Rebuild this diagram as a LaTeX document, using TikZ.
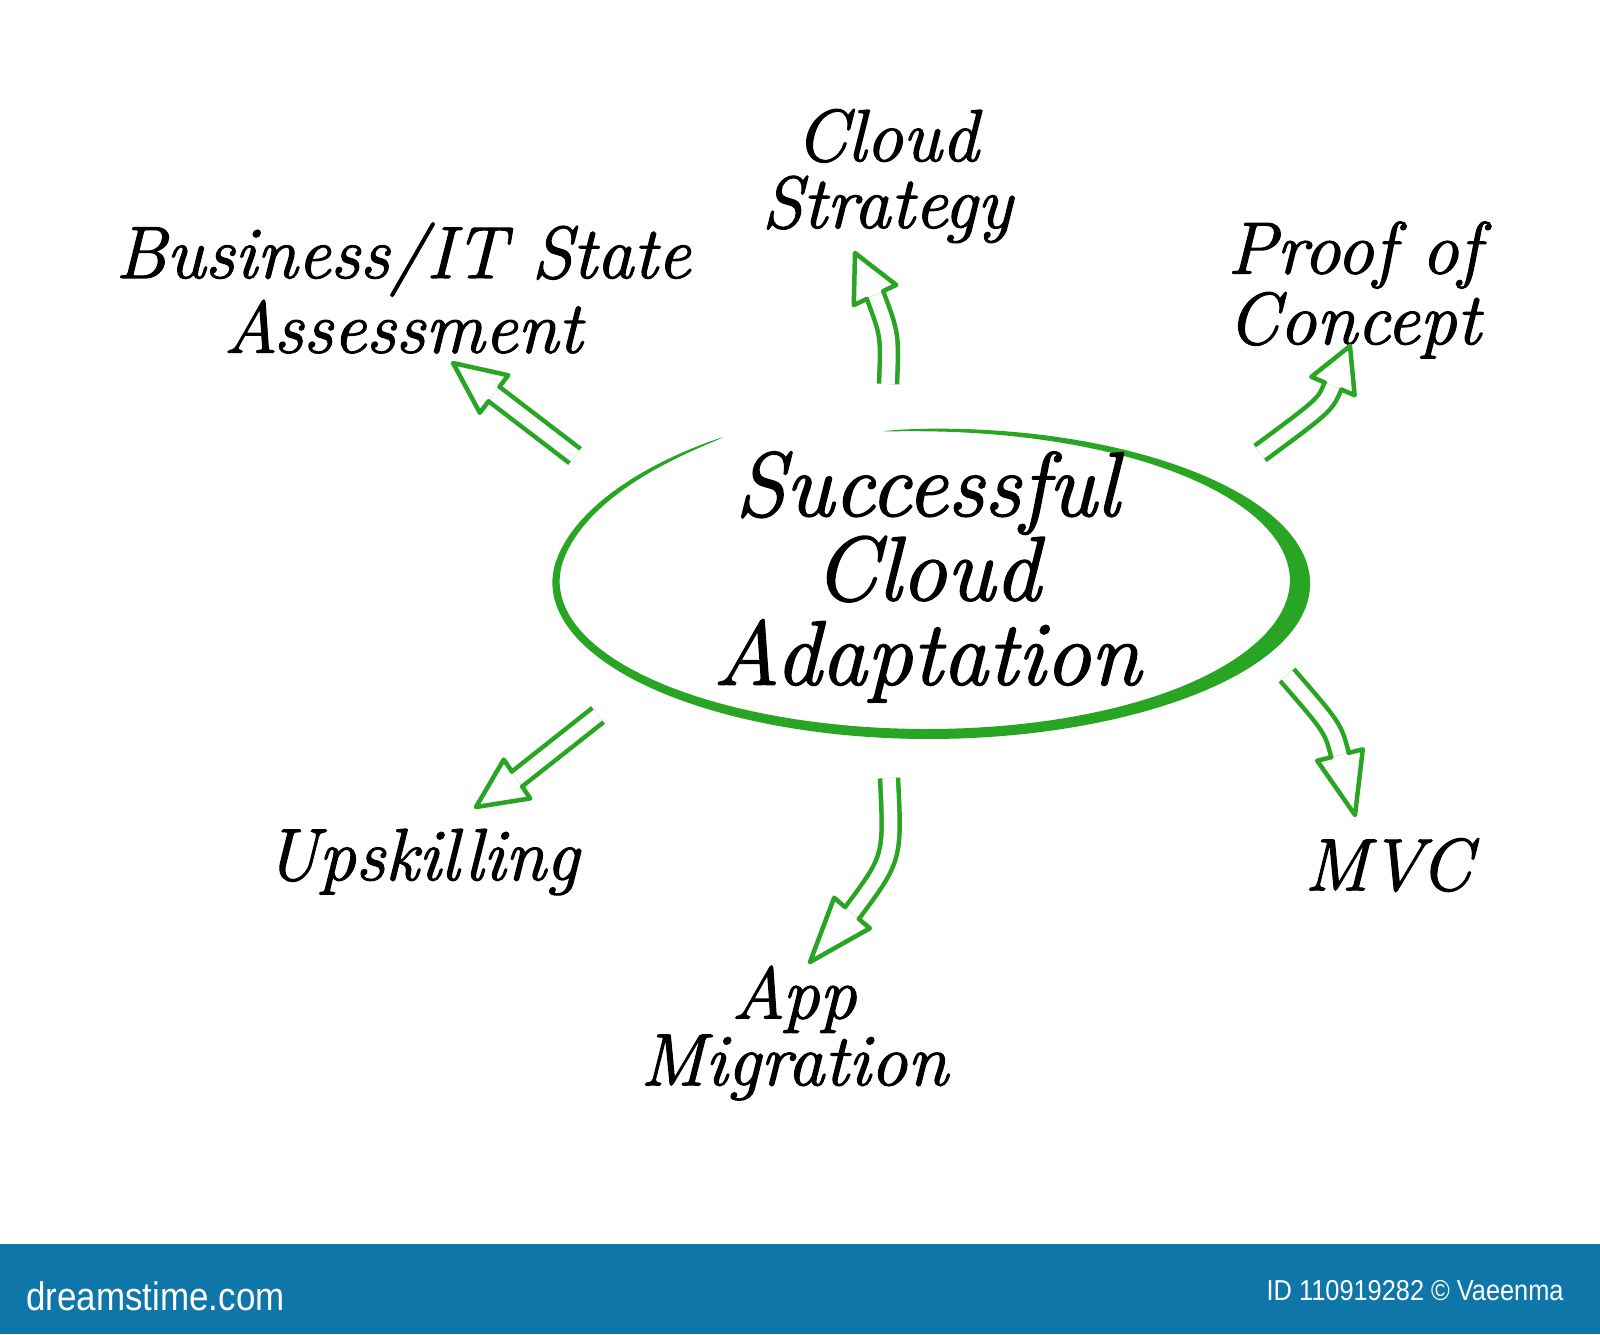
\documentclass[tikz,border=0pt]{standalone}
\usepackage{fontspec}
\usepackage{tikz}
\usepackage{xcolor}
\usetikzlibrary{calc}

\newfontfamily\handfont{Latin Modern Roman}[FakeBold=1.6]
\newfontfamily\barfont[FakeStretch=0.88]{Liberation Sans}
\definecolor{cloudgreen}{RGB}{40,165,35}
\definecolor{barblue}{RGB}{15,118,170}

\tikzset{
  topic/.style={font=\handfont\fontsize{21}{19}\selectfont\itshape, align=center},
  hub/.style={font=\handfont\fontsize{26}{24}\selectfont\itshape, align=center},
  arrowline/.style={draw=cloudgreen, line width=0.45mm, line join=round, line cap=round},
  shaftline/.style={draw=cloudgreen, line width=0.45mm, double=white, double distance=1.35mm}
}

% tail, control, base of head, tip
\newcommand{\hollowarrow}[4]{%
  \draw[shaftline] (#1) .. controls (#2) .. (#3);
  \draw[arrowline] ($(#3)!0.9mm!90:(#4)$) -- ($(#3)!2.35mm!90:(#4)$) -- (#4)
    -- ($(#3)!2.35mm!-90:(#4)$) -- ($(#3)!0.9mm!-90:(#4)$);
}

\begin{document}
\begin{tikzpicture}[x=0.1mm, y=-0.1mm,
  declare function={
    ringt(\s)=97-337*\s;
    ringw(\s)=sqrt(abs(sin(180*\s)))*(10+13*exp(-(((\s-0.3)/0.11)^2)));
    ringm(\s)=1+0.1*(\s>0.85)*((\s-0.85)/0.15)^2;
  }]
\fill[white] (0,0) rectangle (1600,1334);
\useasboundingbox (0,0) rectangle (1600,1334);

% ring
\fill[cloudgreen] plot[domain=0:1, samples=150, variable=\s]
    ({928+(372*ringm(\s)+ringw(\s)/2)*cos(ringt(\s))}, {582-(152*ringm(\s)+ringw(\s)/2)*sin(ringt(\s))})
  -- plot[domain=1:0, samples=150, variable=\s]
    ({928+(372*ringm(\s)-ringw(\s)/2)*cos(ringt(\s))}, {582-(152*ringm(\s)-ringw(\s)/2)*sin(ringt(\s))})
  -- cycle;
\node[hub] (hub) at (927,577) {Successful\\Cloud\\Adaptation};

% topics
\node[topic] (strategy) at (887,176) {Cloud\\Strategy};
\node[topic] (business) at (403,288) {Business/IT State\\Assessment};
\node[topic] (proof) at (1354,290) {Proof of\\Concept};
\node[topic] (upskill) at (422,862) {Upskilling};
\node[topic] (mvc) at (1388,865) {MVC};
\node[topic] (migration) at (794,1033) {App\\Migration};

% arrows
\coordinate (bizT) at (575,456); \coordinate (bizC) at (535,425);
\coordinate (bizB) at (494,394); \coordinate (bizP) at (453,363);
\hollowarrow{bizT}{bizC}{bizB}{bizP}

\coordinate (strT) at (888,384); \coordinate (strC) at (890,335);
\coordinate (strB) at (875,295); \coordinate (strP) at (855,253);
\hollowarrow{strT}{strC}{strB}{strP}

\coordinate (pocT) at (1260,453); \coordinate (pocC) at (1325,405);
\coordinate (pocB) at (1333,386); \coordinate (pocP) at (1350,346);
\hollowarrow{pocT}{pocC}{pocB}{pocP}

\coordinate (mvcT) at (1287,675); \coordinate (mvcC) at (1333,728);
\coordinate (mvcB) at (1340,755); \coordinate (mvcP) at (1355,815);
\hollowarrow{mvcT}{mvcC}{mvcB}{mvcP}

\coordinate (appT) at (889,778); \coordinate (appC) at (893,858);
\coordinate (appB) at (852,913); \coordinate (appP) at (810,962);
\hollowarrow{appT}{appC}{appB}{appP}

\coordinate (upsT) at (598,715); \coordinate (upsC) at (558,747);
\coordinate (upsB) at (517,779); \coordinate (upsP) at (476,807);
\hollowarrow{upsT}{upsC}{upsB}{upsP}

% bar
\fill[barblue] (0,1244) rectangle (1600,1334);
\node[font=\barfont\fontsize{11.3}{12}\selectfont, text=white, anchor=west] (site) at (14,1296) {dreamstime.com};
\node[font=\barfont\fontsize{8.2}{8}\selectfont, text=white, anchor=east] (credit) at (1576,1291) {ID 110919282 © Vaeenma};
\end{tikzpicture}
\end{document}
